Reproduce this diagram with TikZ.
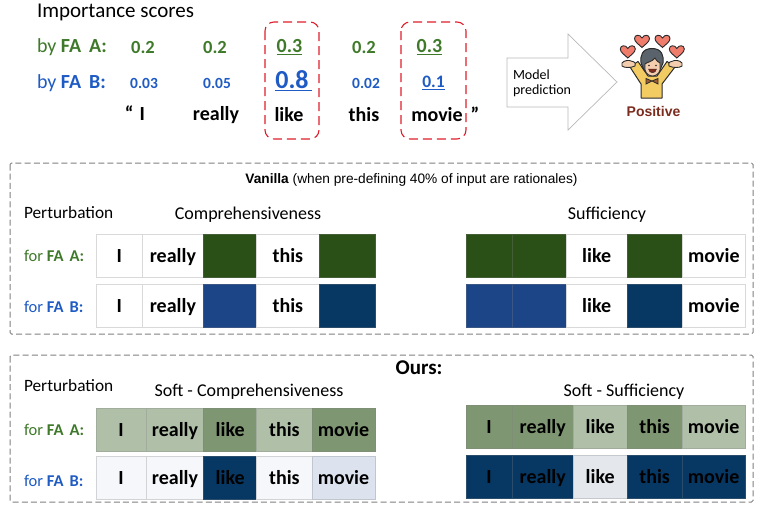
\documentclass[tikz,border=0pt]{standalone}
\usepackage{fontspec}
\setmainfont{Carlito}
\newfontfamily\arialf{Liberation Sans}
\definecolor{fagreen}{HTML}{3F7A2B}
\definecolor{fablue}{HTML}{1F5BC4}
\definecolor{dgreen}{HTML}{2A4F17}
\definecolor{mblue}{HTML}{1C4587}
\definecolor{navy}{HTML}{073763}
\definecolor{sgl}{HTML}{B0BFA8}
\definecolor{sgd}{HTML}{7E9672}
\definecolor{wb}{HTML}{F5F7FA}
\definecolor{lb}{HTML}{DDE3EE}
\definecolor{lg}{HTML}{E4E8EC}
\definecolor{boxgray}{HTML}{808080}
\definecolor{redbox}{HTML}{E0202C}
\definecolor{brownred}{HTML}{7B2C1E}
\definecolor{salmon}{HTML}{F07C6C}
\definecolor{skin}{HTML}{F3CDAE}
\definecolor{shirt}{HTML}{F2CB62}
\definecolor{hair}{HTML}{5A636C}
\definecolor{ink}{HTML}{2B2B2B}
\newcommand{\fs}[1]{\fontsize{#1}{#1}\selectfont}
\tikzset{
  x=1pt,y=-1pt,
  lbl/.style={inner sep=0pt,outer sep=0pt},
  lefttxt/.style={lbl,anchor=west},
  scoreA/.style={lbl,text=fagreen,font=\fs{18.5}\bfseries},
  scoreB/.style={lbl,text=fablue,font=\fs{15.5}\bfseries},
  word/.style={lbl,font=\fs{20}\bfseries},
  tokcell/.style={rectangle,line width=.7pt,inner sep=0pt,outer sep=0pt,font=\fs{20}\bfseries,text=black,text height=17pt,text depth=3.5pt},
  heading/.style={lbl,font=\fs{18}},
  dashbox/.style={draw=boxgray,line width=1pt,dash pattern=on 6pt off 3.2pt,rounded corners=1.5pt},
  redrect/.style={draw=redbox,line width=1.1pt,dash pattern=on 9pt off 5pt,rounded corners=9pt},
  heart/.style={fill=salmon,draw=ink,line width=.9pt},
}
% name, x0, x1, y0, y1, fill, text
\newcommand{\tokbox}[7]{%
  \pgfmathsetmacro\tokw{#3-#2}\pgfmathsetmacro\tokh{#5-#4}%
  \pgfmathsetmacro\tokx{(#2+#3)/2}\pgfmathsetmacro\toky{(#4+#5)/2}%
  \node[tokcell,fill=#6,draw=#6!70!gray,minimum width=\tokw pt,minimum height=\tokh pt] (#1) at (\tokx,\toky) {#7};%
}
\newcommand{\heartat}[2]{%
  \draw[heart] (#1,#2+6.5) .. controls (#1-3,#2+3.5) and (#1-7.5,#2+1) .. (#1-7.5,#2-2.5)
    .. controls (#1-7.5,#2-6.5) and (#1-2,#2-7) .. (#1,#2-3)
    .. controls (#1+2,#2-7) and (#1+7.5,#2-6.5) .. (#1+7.5,#2-2.5)
    .. controls (#1+7.5,#2+1) and (#1+3,#2+3.5) .. (#1,#2+6.5) -- cycle;%
}
\begin{document}
\begin{tikzpicture}
\useasboundingbox (0,0) rectangle (762,509);
\fill[white] (0,0) rectangle (762,509);

% Top block
\node[lefttxt,font=\fs{21}] (title) at (37,12) {Importance scores};
\node[lefttxt,text=fagreen,font=\fs{20}] (byA) at (37,47.5) {by \textbf{FA\hspace{8pt}A:}};
\node[lefttxt,text=fablue,font=\fs{20}] (byB) at (37,83.5) {by \textbf{FA\hspace{8pt}B:}};

\node[scoreA] (a1) at (143,47) {0.2};
\node[scoreA] (a2) at (215,47) {0.2};
\node[scoreA,font=\fs{20}\bfseries] (a3) at (289.5,47) {\underline{0.3}};
\node[scoreA] (a4) at (364,47) {0.2};
\node[scoreA,font=\fs{20}\bfseries] (a5) at (429.5,47) {\underline{0.3}};

\node[scoreB] (b1) at (144,83) {0.03};
\node[scoreB] (b2) at (217,83) {0.05};
\node[scoreB,font=\fs{26}\bfseries] (b3) at (293.5,81) {\underline{0.8\hspace{3pt}}};
\node[scoreB,font=\fs{17.5}\bfseries] (b5) at (433.5,83) {\underline{0.1}};
\node[scoreB] (b4) at (366,83) {0.02};

\node[word] (w1) at (135,113.5) {“\hspace{6pt}I};
\node[word] (w2) at (216,115.5) {really};
\node[word] (w3) at (289,114.5) {like};
\node[word] (w4) at (364,114.5) {this};
\node[word] (w5) at (437,114.5) {movie};
\node[word] (w6) at (475,114) {”};

\draw[redrect] (265,22) rectangle (319,139);
\draw[redrect] (401,22) rectangle (466,139);

% Arrow
\draw[draw=gray!55,line width=.7pt,fill=white] (507,58) -- (568,58) -- (568,34) -- (617,82) -- (568,130) -- (568,107) -- (507,107) -- cycle;
\node[lefttxt,font=\fs{14}] (model) at (513,74.5) {Model};
\node[lefttxt,font=\fs{14}] (pred) at (513,91) {prediction};

% Person icon
\heartat{627.8}{51.5}
\heartat{642}{41}
\heartat{662.5}{41}
\heartat{676.8}{51.5}
\fill[shirt,draw=ink,line width=1pt,line join=round] (630,67) -- (638,61.5) -- (648,76) -- (657,76) -- (667,61.5) -- (675,67) -- (662,84) -- (662,98) -- (641,98) -- (641,84) -- cycle;
\fill[skin,draw=ink,line width=.9pt] (622,63) .. controls (624,60) and (630,60) .. (631,61) .. controls (636,62) and (636,64) .. (635,66) .. controls (631,68) and (624,68) .. (622,66) -- cycle;
\fill[skin,draw=ink,line width=.9pt] (682,63) .. controls (680,60) and (674,60) .. (673,61) .. controls (668,62) and (668,64) .. (669,66) .. controls (673,68) and (680,68) .. (682,66) -- cycle;
\fill[hair,draw=ink,line width=1pt] (652,48.5) .. controls (642,48.5) and (640,56) .. (641,63) -- (644,70) -- (660,70) -- (663,63) .. controls (664,56) and (662,48.5) .. (652,48.5) -- cycle;
\fill[skin,draw=ink,line width=.9pt] (645,64) .. controls (647,62) and (652,62) .. (655,58) .. controls (657,62) and (659,62) .. (660,63) -- (660,70) .. controls (658,78) and (647,78) .. (645,70) -- cycle;
\fill[brownred,draw=ink,line width=.4pt] (648.5,69) -- (656.5,69) .. controls (656,74) and (649,74) .. (648.5,69) -- cycle;
\fill[ink] (649,65.5) circle (.8) (656,65.5) circle (.8);
\fill[brownred!70!shirt,draw=ink,line width=.8pt] (652,81) -- (646,78.5) -- (646,84) -- cycle (652,81) -- (658,78.5) -- (658,84) -- cycle;
\node[lbl,text=brownred,font=\arialf\fs{14}\bfseries] (positive) at (653.5,111) {Positive};

% Vanilla panel
\draw[dashbox] (10,163) rectangle (753,334);
\node[lbl,font=\arialf\fs{13.7}] (vanilla) at (411.5,180) {\textbf{Vanilla} (when pre-defining 40\% of input are rationales)};
\node[lefttxt,font=\fs{17.3}] (pert1) at (24,213) {Perturbation};
\node[heading] (comp) at (248,214.5) {Comprehensiveness};
\node[heading] (suff) at (607,214.5) {Sufficiency};
\node[lefttxt,text=fagreen,font=\fs{16.5}] (f1a) at (24,256) {for \textbf{FA\hspace{6pt}A:}};
\node[lefttxt,text=fablue,font=\fs{16.5}] (f1b) at (24,307) {for \textbf{FA\hspace{6pt}B:}};

\tokbox{c1}{96}{142.5}{234.7}{277.5}{white}{I}
\tokbox{c2}{142.5}{203.3}{234.7}{277.5}{white}{really}
\tokbox{c3}{203.3}{256.7}{234.7}{277.5}{dgreen}{}
\tokbox{c4}{256.7}{319}{234.7}{277.5}{white}{this}
\tokbox{c5}{319}{375}{234.7}{277.5}{dgreen}{}
\tokbox{d1}{96}{142.5}{284.7}{327.3}{white}{I}
\tokbox{d2}{142.5}{203.3}{284.7}{327.3}{white}{really}
\tokbox{d3}{203.3}{256.7}{284.7}{327.3}{mblue}{}
\tokbox{d4}{256.7}{319}{284.7}{327.3}{white}{this}
\tokbox{d5}{319}{375}{284.7}{327.3}{navy}{}

\tokbox{e1}{466}{512.3}{234.7}{277.5}{dgreen}{}
\tokbox{e2}{512.3}{566.3}{234.7}{277.5}{dgreen}{}
\tokbox{e3}{566.3}{627}{234.7}{277.5}{white}{like}
\tokbox{e4}{627}{682.3}{234.7}{277.5}{dgreen}{}
\tokbox{e5}{682.3}{745.5}{234.7}{277.5}{white}{movie}
\tokbox{g1}{466}{512.3}{284.7}{327.3}{mblue}{}
\tokbox{g2}{512.3}{566.3}{284.7}{327.3}{mblue}{}
\tokbox{g3}{566.3}{627}{284.7}{327.3}{white}{like}
\tokbox{g4}{627}{682.3}{284.7}{327.3}{navy}{}
\tokbox{g5}{682.3}{745.5}{284.7}{327.3}{white}{movie}

% Ours panel
\draw[dashbox] (10,355) rectangle (753,502);
\node[lbl,font=\fs{21}\bfseries] (ours) at (419,368) {Ours:};
\node[lefttxt,font=\fs{17.3}] (pert2) at (24,386) {Perturbation};
\node[heading] (scomp) at (249,391.5) {Soft - Comprehensiveness};
\node[heading] (ssuff) at (624,391.5) {Soft - Sufficiency};
\node[lefttxt,text=fagreen,font=\fs{16.5}] (f2a) at (24,430) {for \textbf{FA\hspace{6pt}A:}};
\node[lefttxt,text=fablue,font=\fs{16.5}] (f2b) at (24,481) {for \textbf{FA\hspace{6pt}B:}};

\tokbox{h1}{96}{146.3}{408.3}{451}{sgl}{I}
\tokbox{h2}{146.3}{203.7}{408.3}{451}{sgl}{really}
\tokbox{h3}{203.7}{256.7}{408.3}{451}{sgd}{like}
\tokbox{h4}{256.7}{312}{408.3}{451}{sgl}{this}
\tokbox{h5}{312}{375}{408.3}{451}{sgd}{movie}
\tokbox{i1}{96}{146.3}{456.7}{499.3}{wb}{I}
\tokbox{i2}{146.3}{203.7}{456.7}{499.3}{wb}{really}
\tokbox{i3}{203.7}{256.7}{456.7}{499.3}{navy}{like}
\tokbox{i4}{256.7}{312}{456.7}{499.3}{wb}{this}
\tokbox{i5}{312}{375}{456.7}{499.3}{lb}{movie}

\tokbox{j1}{466}{512.3}{405.7}{448.3}{sgd}{I}
\tokbox{j2}{512.3}{573.3}{405.7}{448.3}{sgd}{really}
\tokbox{j3}{573.3}{627}{405.7}{448.3}{sgl}{like}
\tokbox{j4}{627}{682.3}{405.7}{448.3}{sgd}{this}
\tokbox{j5}{682.3}{745}{405.7}{448.3}{sgl}{movie}
\tokbox{k1}{466}{512.3}{455.5}{498.3}{navy}{I}
\tokbox{k2}{512.3}{573.3}{455.5}{498.3}{navy}{really}
\tokbox{k3}{573.3}{627}{455.5}{498.3}{lg}{like}
\tokbox{k4}{627}{682.3}{455.5}{498.3}{navy}{this}
\tokbox{k5}{682.3}{745}{455.5}{498.3}{navy}{movie}
\end{tikzpicture}
\end{document}
